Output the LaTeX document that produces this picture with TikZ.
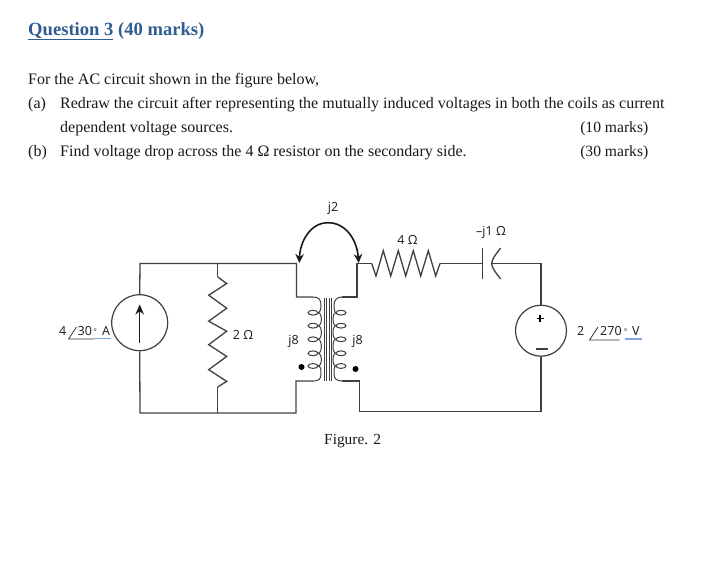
\documentclass[tikz,border=0pt]{standalone}
\usepackage{fontspec}
\setmainfont{Liberation Serif}
\newfontfamily\figfont{Open Sans}
\usetikzlibrary{arrows.meta}
\definecolor{headblue}{HTML}{2F5C92}
\definecolor{wirecol}{HTML}{404040}
\definecolor{markblue}{HTML}{7FA3E8}
\tikzset{
  para/.style={anchor=base west,inner sep=0pt,font=\fontsize{16}{18}\selectfont,text=black!90},
  marks/.style={anchor=base east,inner sep=0pt,font=\fontsize{15.6}{18}\selectfont,text=black!90},
  lab/.style={inner sep=0pt,font=\figfont\fontsize{12.5}{14}\selectfont,text=black!90},
  wire/.style={draw=wirecol,line width=1.3pt},
  coilline/.style={draw=wirecol,line width=1pt},
  src/.style={circle,draw=wirecol,line width=1.2pt,fill=white,inner sep=0pt},
}
\begin{document}
\begin{tikzpicture}[x=1pt,y=-1pt]
  \useasboundingbox (0,0) rectangle (713,565);

  % question text
  \node[para,text=headblue,font=\bfseries\fontsize{18.6}{21}\selectfont] (head) at (28,35) {\underline{Question 3} (40 marks)};
  \node[para] (intro) at (28,84) {For the AC circuit shown in the figure below,};
  \node[para] (a) at (28,108) {(a)};
  \node[para] (atext) at (60,108) {Redraw the circuit after representing the mutually induced voltages in both the coils as current};
  \node[para] (atwo) at (60,132) {dependent voltage sources.};
  \node[marks] (amarks) at (648.5,132) {(10 marks)};
  \node[para] (b) at (28,156) {(b)};
  \node[para] (btext) at (60,156) {Find voltage drop across the 4 Ω resistor on the secondary side.};
  \node[marks] (bmarks) at (648.5,156) {(30 marks)};
  \node[para,font=\fontsize{15.4}{18}\selectfont] (fig) at (324,444) {Figure. 2};

  % corners of the circuit
  \coordinate (tl) at (140,263.5);
  \coordinate (bl) at (140,413);
  \coordinate (rt) at (217.7,263.5);
  \coordinate (rb) at (217.7,413);
  \coordinate (p1) at (296.5,263.5);
  \coordinate (p2) at (296.5,297);
  \coordinate (p3) at (313,297);
  \coordinate (p4) at (313,381);
  \coordinate (p5) at (296,381);
  \coordinate (p6) at (296,413);
  \coordinate (s1) at (357,263.5);
  \coordinate (s2) at (357,297);
  \coordinate (s3) at (342,297);
  \coordinate (s4) at (342,381);
  \coordinate (s5) at (359.5,381);
  \coordinate (s6) at (359.5,411.5);
  \coordinate (c1) at (482.7,263.5);
  \coordinate (c2) at (491.7,263.5);
  \coordinate (tr) at (541,263.5);
  \coordinate (br) at (541,411.5);
  \coordinate (r1) at (371.7,263.5);
  \coordinate (r2) at (440,263.5);
  \coordinate (ra) at (217.7,277);
  \coordinate (rz) at (217.7,387);

  % sources
  \node[src,minimum size=56pt] (isrc) at (139.7,322.7) {};
  \node[src,minimum size=51pt] (vsrc) at (541,330.7) {};

  \begin{scope}[every path/.style={wire}]
    \path (isrc.north) -- (tl) -- (p1) -- (p2) -- (p3);
    \path (isrc.south) -- (bl) -- (p6) -- (p5) -- (p4);
    \path (rt) -- (ra);
    \path (rz) -- (rb);
    \path (s3) -- (s2) -- (s1) -- (r1);
    \path (r2) -- (c1);
    \path (c2) -- (tr) -- (vsrc.north);
    \path (vsrc.south) -- (br) -- (s6) -- (s5) -- (s4);

    % resistors
    \path (ra) -- ++(9,6.5) -- ++(-18,11.7) -- ++(18,13) -- ++(-18,13) -- ++(18,10) -- ++(-18,13.5) -- ++(18,11.7) -- ++(-18,13.3) -- ++(18,11.7) -- (rz);
    \path (r1) -- (376,276) -- (383.3,250.7) -- (390.7,276) -- (398.3,250.7) -- (405.7,276) -- (413.3,250.7) -- (420.7,276) -- (428.3,250.7) -- (435.7,276) -- (r2);

    % capacitor
    \path (c1 |- 0,248) -- (c1 |- 0,279);
    \path (500.7,248) .. controls (495,255) and (491.7,260) .. (c2) .. controls (491.7,267) and (495,272) .. (500.7,279);
  \end{scope}

  % coils
  \begin{scope}[every path/.style={coilline}]
    \path (p3) .. controls (319,297) and (321,300) .. (321,305) .. controls (321,309) and (320,312.7) .. (318,312.7);
    \path (s3) .. controls (337,297) and (334,300) .. (334,305) .. controls (334,309) and (334.5,312.7) .. (336,312.7);
    \foreach \ya/\yb in {312.7/325.7,325.7/339.3,339.3/353.3,353.3/366} {
      \path (318,\ya) .. controls (322.5,\ya) and (322.5,\yb) .. (318,\yb);
      \path (336,\ya) .. controls (332,\ya) and (332,\yb) .. (336,\yb);
    }
    \path (318,366) .. controls (321,366) and (321,370) .. (321,374) .. controls (321,379) and (319,381) .. (p4);
    \path (336,366) .. controls (334,366) and (334,370) .. (334,374) .. controls (334,379) and (337,381) .. (s4);
    \foreach \i/\yy in {1/312.7,2/325.7,3/339.3,4/353.3,5/366} {
      \path (313,\yy) coordinate (la\i) ellipse (5pt and 2.4pt);
      \path (341,\yy) coordinate (lb\i) ellipse (5pt and 2.4pt);
    }
    \foreach \xx in {324.3,326.8,329.2,331.7} {
      \path (\xx,298) -- (\xx,381);
    }
  \end{scope}

  % mutual coupling arc and dots
  \coordinate (ma) at (299.3,263);
  \coordinate (mb) at (358.7,263);
  \draw[-{Stealth[length=9pt,width=8.5pt]},black!90,line width=1.6pt] (328,222.7) .. controls (310,222.7) and (300,242) .. (ma);
  \draw[-{Stealth[length=9pt,width=8.5pt]},black!90,line width=1.6pt] (328,222.7) .. controls (346,222.7) and (357,240) .. (mb);
  \fill (301.5,367) circle (3pt);
  \fill (355.5,369) circle (3pt);

  % source symbols
  \draw[-{Stealth[length=10pt,width=8.5pt]},black!90,line width=1.2pt] (139.7,342.7) -- (139.7,304.5);
  \draw[black,line width=1.5pt] (536.5,318.3) -- (543.5,318.3) (540,315) -- (540,322);
  \draw[wirecol,line width=1.4pt] (536,349) -- (548,349);

  % labels
  \node[lab] (jm) at (333,208) {j2};
  \node[lab] (rlab) at (407.5,240) {4 Ω};
  \node[lab] (clab) at (491,232.5) {–j1 Ω};
  \node[lab] (jl) at (293.5,341) {j8};
  \node[lab] (jr) at (357.5,341) {j8};
  \node[lab] (glab) at (243,335) {2 Ω};
  \node[lab,anchor=base west] (ifour) at (59,335) {4};
  \node[lab,anchor=base west] (ithirty) at (77.5,335) {30};
  \node[lab,anchor=base west,font=\figfont\fontsize{5}{6}\selectfont] (ideg) at (93.5,331) {o};
  \node[lab,anchor=base west] (iunit) at (102,335) {A};
  \draw[black!80,line width=.8pt] (76.5,327) -- (68.5,339) -- (94,339);
  \draw[markblue,line width=1.8pt] (94,338.5) -- (111,338.5);
  \node[lab,anchor=base west] (vtwo) at (577,335) {2};
  \node[lab,anchor=base west] (vang) at (600,335) {270};
  \node[lab,anchor=base west,font=\figfont\fontsize{5}{6}\selectfont] (vdeg) at (624,331) {o};
  \node[lab,anchor=base west] (vunit) at (632,335) {V};
  \draw[black!80,line width=.8pt] (598,327) -- (589.5,340) -- (619.5,340);
  \draw[markblue,line width=1.8pt] (624.5,339) -- (641.5,339);
\end{tikzpicture}
\end{document}
